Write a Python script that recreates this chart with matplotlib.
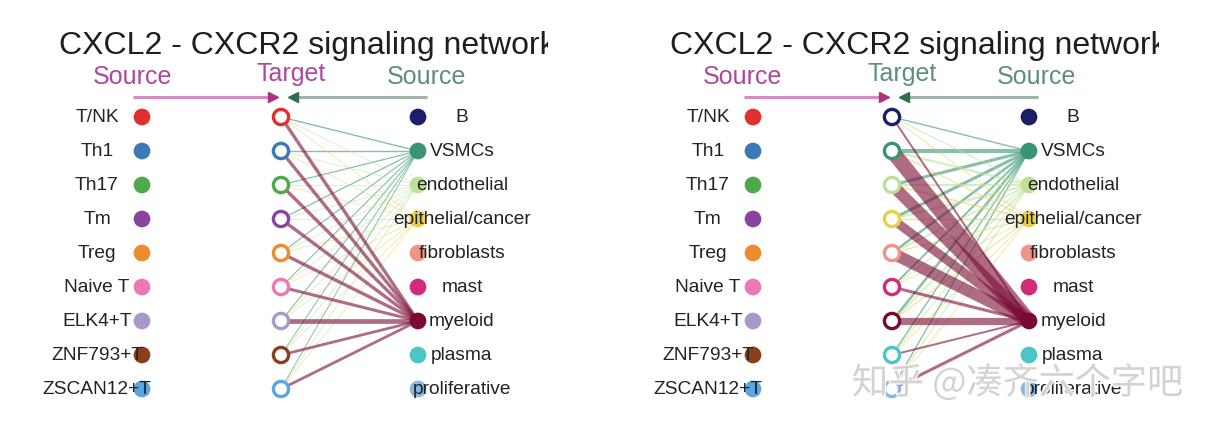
import matplotlib
matplotlib.use("Agg")
import matplotlib.pyplot as plt
import matplotlib.patheffects as pe

plt.rcParams['font.family'] = ['Liberation Sans', 'DejaVu Sans']

# ---- data ----
title = "CXCL2 - CXCR2 signaling network"

left_cells = ["T/NK", "Th1", "Th17", "Tm", "Treg", "Naive T", "ELK4+T", "ZNF793+T", "ZSCAN12+T"]
left_colors = ["#e0302e", "#3b78b6", "#4fa84a", "#8a44a0", "#ec8c2c",
               "#ee78b4", "#a898cc", "#8a3f1c", "#5aa6de"]

right_cells = ["B", "VSMCs", "endothelial", "epithelial/cancer", "fibroblasts",
               "mast", "myeloid", "plasma", "proliferative"]
right_colors = ["#1d1d6a", "#3a9474", "#bfe09a", "#e8d04a", "#f0948a",
                "#d42a7c", "#7a0a34", "#4cc6c4", "#8ab6e2"]

# edge widths (points): senders = right_cells (rows), targets = middle column
# panel 1: targets are left_cells
widths_p1 = {
    "VSMCs":             [1.0, 1.0, 0.9, 0.9, 0.8, 0.8, 0.8, 0.7, 0.7],
    "endothelial":       [0.6, 0.6, 0.6, 0.6, 0.6, 0.6, 0.6, 0.6, 0.6],
    "epithelial/cancer": [0.5, 0.5, 0.5, 0.5, 0.5, 0.5, 0.5, 0.5, 0.5],
    "myeloid":           [2.4, 2.4, 2.4, 2.4, 2.4, 2.2, 3.4, 2.0, 2.0],
}
# panel 2: targets are right_cells
widths_p2 = {
    "VSMCs":             [1.0, 3.0, 2.2, 2.2, 1.8, 1.4, 1.8, 1.0, 1.0],
    "endothelial":       [0.8, 1.5, 1.5, 1.5, 1.2, 0.8, 1.2, 0.8, 0.8],
    "epithelial/cancer": [0.6, 0.8, 1.0, 1.0, 0.8, 0.6, 0.8, 0.6, 0.6],
    "myeloid":           [1.4, 10.5, 8.5, 6.5, 8.5, 2.2, 5.2, 1.4, 2.2],
}

# ---- layout (pixels inside a panel) ----
W, H = 1216, 432
panel_w = 548
panel_x0 = [0, 611]
col_x = [142, 281, 418]
label_left_x = 97
label_right_x = 462
row_y0, row_dy = 117, 34

fig = plt.figure(figsize=(W / 100, H / 100), dpi=100)


def draw_panel(x0, targets, target_colors, target_title_color, widths):
    ax = fig.add_axes([x0 / W, 0, panel_w / W, 1])
    ax.set_xlim(0, panel_w)
    ax.set_ylim(H, 0)
    ax.axis("off")

    ys = [row_y0 + i * row_dy for i in range(len(left_cells))]

    ax.text(59, 46, title, fontsize=23, color="#1e1e1e", ha="left", va="center", clip_on=True)
    ax.text(132, 77, "Source", fontsize=18, color="#b0489a", ha="center", va="center")
    ax.text(291, 74, "Target", fontsize=18, color=target_title_color, ha="center", va="center")
    ax.text(426, 77, "Source", fontsize=18, color="#5e8e7c", ha="center", va="center")

    # arrows above the columns
    ax.plot([133, 272], [97, 97], color="#d48cc0", lw=2.2, solid_capstyle="butt")
    ax.plot([273], [97], marker=">", ms=7, color="#b0307e", mec="#b0307e")
    ax.plot([296, 427], [97, 97], color="#9fb3a9", lw=2.2, solid_capstyle="butt")
    ax.plot([293], [97], marker="<", ms=7, color="#2e6e50", mec="#2e6e50")

    # edges from right-hand sources to middle targets
    for sender, ws in widths.items():
        si = right_cells.index(sender)
        c = right_colors[si]
        for ti, w in enumerate(ws):
            if w > 0:
                ax.plot([col_x[2], col_x[1]], [ys[si], ys[ti]], color=c, lw=w,
                        alpha=0.6, solid_capstyle="butt", zorder=1)

    # nodes
    ax.scatter([col_x[0]] * len(ys), ys, s=145, c=left_colors, zorder=3, linewidths=0)
    ax.scatter([col_x[1]] * len(ys), ys, s=120, facecolors="white",
               edgecolors=target_colors, linewidths=2.4, zorder=3)
    ax.scatter([col_x[2]] * len(ys), ys, s=145, c=right_colors, zorder=3, linewidths=0)

    for y, name in zip(ys, left_cells):
        ax.text(label_left_x, y, name, fontsize=13.8, color="#222222", ha="center", va="center", zorder=4)
    for y, name in zip(ys, right_cells):
        ax.text(label_right_x, y, name, fontsize=13.8, color="#222222", ha="center", va="center", zorder=4)
    return ax


draw_panel(panel_x0[0], left_cells, left_colors, "#b0489a", widths_p1)
draw_panel(panel_x0[1], right_cells, right_colors, "#5e8e7c", widths_p2)

# watermark
fig.text(852 / W, 1 - 383 / H, "知乎 @凑齐六个字吧", fontsize=26, color="#cfcfcf",
         ha="left", va="center", family=["Noto Sans CJK SC", "DejaVu Sans"],
         path_effects=[pe.withStroke(linewidth=2, foreground="white")], alpha=0.9)

fig.savefig("out.png", dpi=100)
